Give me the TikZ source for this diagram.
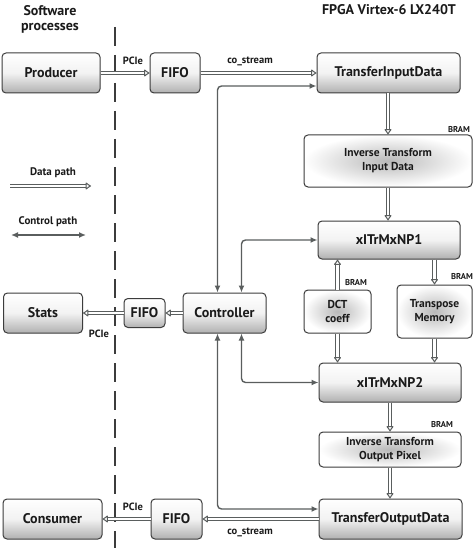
\documentclass[tikz,border=0pt]{standalone}
\usepackage{fontspec}
\setmainfont{PT Sans}
\usetikzlibrary{arrows.meta,calc}
\definecolor{lc}{HTML}{5A5E5E}
\definecolor{bc}{HTML}{3C3C3C}
\definecolor{tc}{HTML}{1A1A1A}
\tikzset{
  box/.style={draw=bc, line width=1pt, rounded corners=4pt, top color=white, bottom color=gray!62, middle color=gray!10,
    text=tc, font=\fontsize{14}{16}\selectfont\bfseries, align=center, inner sep=0pt},
  rbox/.style={draw=bc, line width=1pt, rounded corners=4pt, inner color=gray!55, outer color=white,
    text=tc, font=\fontsize{11.5}{14}\selectfont\bfseries, align=center, inner sep=0pt},
  data/.style={draw=lc, line width=1pt, double=white, double distance=2.6pt, -{Latex[open,round,length=6pt,width=8.5pt]}},
  ctrl/.style={draw=lc, line width=1.4pt, rounded corners=4pt, {Latex[length=7pt,width=6pt]}-{Latex[length=7pt,width=6pt]}},
  lbl/.style={text=tc, font=\fontsize{10.5}{12}\selectfont\bfseries, inner sep=0pt},
  bram/.style={text=tc, font=\fontsize{8.5}{10}\selectfont\bfseries, inner sep=0pt},
  ttl/.style={text=tc, font=\fontsize{14}{16}\selectfont\bfseries, inner sep=0pt, align=center}
}
\begin{document}
\begin{tikzpicture}[x=1pt,y=-1pt]
\useasboundingbox (0,0) rectangle (474,548);
\fill[white] (0,0) rectangle (474,548);
% titles
\node[ttl] (t1) at (50,19) {Software\\[-1pt]processes};
\node[ttl] (t2) at (389,10) {FPGA Virtex-6 LX240T};
% dashed divider
\coordinate (d1) at (115,27);
\coordinate (d2) at (115,548);
\draw[bc, line width=1.3pt, dash pattern=on 19pt off 9pt] (d1) -- (d2);
% nodes
\node[box, minimum width=98pt, minimum height=40pt] (prod) at (51,73) {Producer};
\node[box, minimum width=50pt, minimum height=40pt] (fifo1) at (175,73) {FIFO};
\node[box, minimum width=143pt, minimum height=40pt] (tid) at (388.5,73) {TransferInputData};
\node[rbox, minimum width=168pt, minimum height=52pt] (itid) at (388,161) {Inverse Transform\\Input Data};
\node[box, minimum width=142pt, minimum height=38pt] (np1) at (389,240) {xITrMxNP1};
\node[box, minimum width=79pt, minimum height=40pt] (stats) at (43,313) {Stats};
\node[box, minimum width=41pt, minimum height=29pt] (fifo2) at (144.5,313) {FIFO};
\node[box, minimum width=83pt, minimum height=40pt] (ctrl) at (224.5,313) {Controller};
\node[rbox, minimum width=67pt, minimum height=43pt] (dct) at (337.5,311.5) {DCT\\coeff};
\node[rbox, minimum width=75pt, minimum height=53pt] (tm) at (434.5,311.5) {Transpose\\Memory};
\node[box, minimum width=142pt, minimum height=39pt] (np2) at (390,382.5) {xITrMxNP2};
\node[rbox, minimum width=142pt, minimum height=35pt] (itop) at (390,449.5) {Inverse Transform\\Output Pixel};
\node[box, minimum width=143pt, minimum height=40pt] (tod) at (390.5,519) {TransferOutputData};
\node[box, minimum width=51pt, minimum height=40pt] (fifo3) at (176.5,519) {FIFO};
\node[box, minimum width=99pt, minimum height=40pt] (cons) at (52.5,519) {Consumer};
% data paths
\draw[data] (prod) -- (fifo1);
\draw[data] (fifo1) -- (tid);
\draw[data] (ctrl) -- (fifo2);
\draw[data] (fifo2) -- (stats);
\draw[data] (tod) -- (fifo3);
\draw[data] (fifo3) -- (cons);
\draw[data] ([xshift=-0.5pt]tid.south) -- ([xshift=-0.5pt]tid.south |- itid.north);
\draw[data] (itid.south) -- (itid.south |- np1.north);
\draw[data] (dct.north) -- (dct.north |- np1.south);
\draw[data] (tm.north |- np1.south) -- (tm.north);
\draw[data] (dct.south) -- (dct.south |- np2.north);
\draw[data] (tm.south) -- (tm.south |- np2.north);
\draw[data] (np2.south) -- (np2.south |- itop.north);
\draw[data] (itop.south) -- (itop.south |- tod.north);
% control paths
\draw[ctrl] ([xshift=35pt]ctrl.north west) |- ([yshift=-13pt]tid.west);
\draw[ctrl] ([xshift=59pt]ctrl.north west) |- (np1.west);
\draw[ctrl] ([xshift=59pt]ctrl.south west) |- (np2.west);
\draw[ctrl] ([xshift=35pt]ctrl.south west) |- ([yshift=10pt]tod.west);
% labels
\node[lbl] (p1) at (133,61) {PCIe};
\node[lbl] (p2) at (99,334) {PCIe};
\node[lbl] (p3) at (133,507) {PCIe};
\node[lbl] (c1) at (250,61) {co\_stream};
\node[lbl] (c2) at (250,532) {co\_stream};
\node[bram, anchor=east] (b1) at (470,130) {BRAM};
\node[bram] (b2) at (356,283) {BRAM};
\node[bram, anchor=east] (b3) at (473,277) {BRAM};
\node[bram] (b4) at (442,425) {BRAM};
% legend
\node[lbl, font=\fontsize{11}{13}\selectfont\bfseries] (lg1) at (53,173) {Data path};
\coordinate (la1) at (10,186);
\coordinate (la2) at (91,186);
\draw[data] (la1) -- (la2);
\node[lbl, font=\fontsize{11}{13}\selectfont\bfseries] (lg2) at (48,222) {Control path};
\coordinate (lb1) at (11,235);
\coordinate (lb2) at (86,235);
\draw[ctrl] (lb1) -- (lb2);
\end{tikzpicture}
\end{document}
